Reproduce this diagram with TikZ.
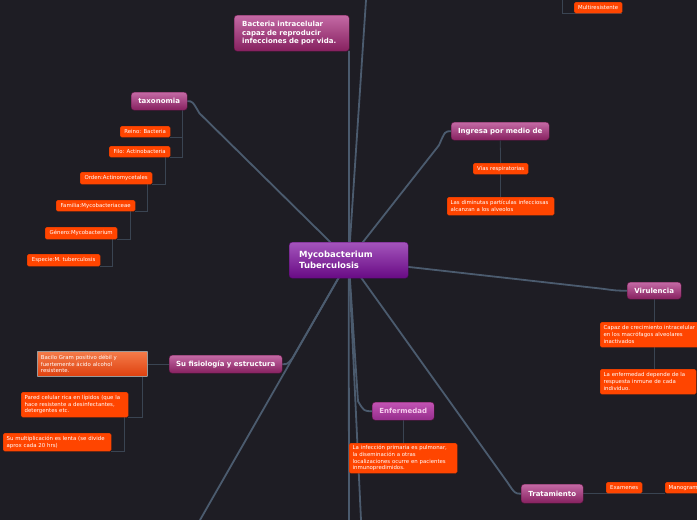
\documentclass[tikz,border=0pt]{standalone}
\usepackage{fontspec}
\setmainfont{DejaVu Sans}
\usetikzlibrary{calc,backgrounds}
\definecolor{bg}{HTML}{1E1D24}
\definecolor{conn}{HTML}{4B5B6E}
\definecolor{subconn}{HTML}{3A4452}
\definecolor{leafc}{HTML}{FF4500}
\definecolor{leafD}{HTML}{C83400}
\definecolor{topT}{HTML}{C46AA5}
\definecolor{topB}{HTML}{86205F}
\definecolor{topD}{HTML}{5E1442}
\definecolor{rootT}{HTML}{A455BC}
\definecolor{rootB}{HTML}{680A84}
\definecolor{enfT}{HTML}{C254B4}
\definecolor{enfB}{HTML}{952C8C}
\definecolor{enfText}{HTML}{F6CDEF}
\definecolor{bacT}{HTML}{F47C4A}
\definecolor{bacB}{HTML}{DE400E}
\begin{document}
\begin{tikzpicture}[x=1pt,y=-1pt,
  topic/.style={rounded corners=3pt, top color=topT, bottom color=topB, draw=topD, line width=0.4pt,
    text=white, font=\bfseries\fontsize{7}{8.7}\selectfont, inner sep=0pt, anchor=north west},
  leaf/.style={fill=leafc, draw=leafD, line width=0.3pt, rounded corners=1.5pt, text=white,
    font=\fontsize{5.4}{6.7}\selectfont, inner xsep=3.5pt, inner ysep=0pt, anchor=north west},
  mainline/.style={draw=conn, line width=1.8pt, line cap=round},
  subline/.style={draw=subconn, line width=0.8pt}]
\useasboundingbox (0,0) rectangle (697,520);

% central node
\node[rounded corners=3pt, top color=rootT, bottom color=rootB, draw=rootB!80!black, line width=0.4pt,
  text=white, font=\bfseries\fontsize{8.5}{11}\selectfont, inner xsep=10pt, inner ysep=0pt,
  anchor=north west, minimum width=119pt, minimum height=36pt, text width=99pt, align=left]
  (root) at (289,242) {Mycobacterium\\Tuberculosis};

% main topics
\node[topic, inner xsep=8pt, minimum width=115pt, minimum height=36pt, text width=99pt, align=left]
  (bact) at (234,15) {Bacteria intracelular\\capaz de reproducir\\infecciones de por vida.};
\node[topic, minimum width=56pt, minimum height=18pt] (tax) at (131,92) {taxonomia};
\node[topic, minimum width=98pt, minimum height=18pt] (ing) at (451,122) {Ingresa por medio de};
\node[topic, minimum width=54pt, minimum height=17pt] (vir) at (627,282) {Virulencia};
\node[topic, minimum width=113pt, minimum height=18pt] (sufis) at (169,355) {Su fisiología y estructura};
\node[topic, top color=enfT, bottom color=enfB, text=enfText, minimum width=62pt, minimum height=18pt] (enf) at (372,402) {Enfermedad};
\node[topic, minimum width=62pt, minimum height=19pt] (trat) at (521,484) {Tratamiento};

% leaves: taxonomy
\node[leaf, minimum width=50pt, minimum height=11pt] (reino) at (120,126) {Reino: Bacteria};
\node[leaf, minimum width=61pt, minimum height=11pt] (filo) at (109,146) {Filo: Actinobacteria};
\node[leaf, minimum width=72pt, minimum height=12pt] (orden) at (80,172) {Orden:Actinomycetales};
\node[leaf, minimum width=79pt, minimum height=11pt] (familia) at (56,200) {Familia:Mycobacteriaceae};
\node[leaf, minimum width=72pt, minimum height=12pt] (genero) at (45,227) {Género:Mycobacterium};
\node[leaf, minimum width=73pt, minimum height=12pt] (especie) at (27,254) {Especie:M. tuberculosis};

% leaves: others
\node[leaf, minimum width=48pt, minimum height=11pt] (multi) at (574,2) {Multiresistente};
\node[leaf, minimum width=55pt, minimum height=11pt] (vias) at (473,163) {Vías respiratorias};
\node[leaf, minimum width=107pt, minimum height=18pt, text width=100pt, align=left] (dimin) at (447,197)
  {Las diminutas partículas infecciosas\\alcanzan a los alveolos};
\node[leaf, minimum width=103pt, minimum height=25pt, text width=96pt, align=left] (capaz) at (600,322)
  {Capaz de crecimiento intracelular\\en los macrófagos alveolares\\inactivados};
\node[leaf, minimum width=96pt, minimum height=25pt, text width=89pt, align=left] (laenf) at (600,369)
  {La enfermedad depende de la\\respuesta inmune de cada\\individuo.};
\node[leaf, minimum width=108pt, minimum height=30pt, text width=101pt, align=left] (infec) at (349,443)
  {La infección primaria es pulmonar,\\la diseminación a otras\\localizaciones ocurre en pacientes\\inmunopredimidos.};
\node[leaf, minimum width=36pt, minimum height=11pt] (exam) at (606,482) {Examenes};
\node[leaf, minimum width=45pt, minimum height=11pt, text width=38pt, align=left] (mano) at (665,482) {Manogram};
\node[leaf, rounded corners=0.5pt, fill=none, top color=bacT, bottom color=bacB, draw=gray!80, line width=0.8pt,
  minimum width=110pt, minimum height=25pt, text width=103pt, align=left] (bacilo) at (37,351)
  {Bacilo Gram positivo débil y\\fuertemente ácido alcohol\\resistente.};
\node[leaf, minimum width=107pt, minimum height=25pt, text width=100pt, align=left] (pared) at (21,392)
  {Pared celular rica en lípidos (que la\\hace resistente a desinfectantes,\\detergentes etc.};
\node[leaf, minimum width=108pt, minimum height=18pt, text width=101pt, align=left] (sumult) at (3,433)
  {Su multiplicación es lenta (se divide\\aprox cada 20 hrs)};

% off-picture ends
\coordinate (top1) at (366,0);
\coordinate (mtop) at (562,0);
\coordinate (bl) at (200,520);
\coordinate (b1) at (349,520);
\coordinate (b2) at (361,520);

\begin{pgfonlayer}{background}
\fill[bg] (0,0) rectangle (697,520);
% main connectors
\draw[mainline] (root.center) -- (top1);
\draw[mainline] (root.center) -- (root.center |- bact.south);
\draw[mainline] (root.center) -- ($(tax.east)+(12,12)$) .. controls ($(tax.east)+(5,0)$) .. (tax.east);
\draw[mainline] (root.center) -- ($(ing.west)+(-12,14)$) .. controls ($(ing.west)+(-6,0)$) .. (ing.west);
\draw[mainline] (root.center) -- ($(vir.west)+(-25,-2)$) .. controls ($(vir.west)+(-10,0)$) .. (vir.west);
\draw[mainline] (root.center) -- ($(trat.west)+(-14,-12)$) .. controls ($(trat.west)+(-6,0)$) .. (trat.west);
\draw[mainline] (root.center) -- ($(enf.west)+(-14,-10)$) .. controls ($(enf.west)+(-8,0)$) .. (enf.west);
\draw[mainline] (root.center) -- ($(sufis.east)+(10,-6)$) .. controls ($(sufis.east)+(5,0)$) .. (sufis.east);
\draw[mainline] (root.center) -- (bl);
\draw[mainline] (root.center) -- (b1);
\draw[mainline] (root.center) -- (b2);
% sub connectors
\draw[subline] ($(tax.south east)+(-5,0)$) |- (reino.south east);
\draw[subline] ($(tax.south east)+(-5,0)$) |- (filo.south east);
\draw[subline] ($(filo.south east)+(-5,0)$) |- (orden.south east);
\draw[subline] ($(orden.south east)+(-5,0)$) |- (familia.south east);
\draw[subline] ($(familia.south east)+(-5,0)$) |- (genero.south east);
\draw[subline] ($(genero.south east)+(-5,0)$) |- (especie.south east);
\draw[subline] (mtop) |- (multi.south east);
\draw[subline] (ing.south) -- (vias.north);
\draw[subline] (vias.south) -- (dimin.north);
\draw[subline] (vir.south) -- (vir.south |- capaz.north);
\draw[subline] (vir.south |- capaz.south) -- (vir.south |- laenf.north);
\draw[subline] (enf.south) -- (enf.south |- infec.north);
\draw[subline] (trat.east) -- (trat.east -| mano.west);
\draw[subline] (sufis.west) -- (sufis.west -| bacilo.east);
\draw[subline] ($(bacilo.south east)+(-5,0)$) |- (pared.south east);
\draw[subline] ($(pared.south east)+(-4,0)$) |- (sumult.south east);
\end{pgfonlayer}
\end{tikzpicture}
\end{document}
